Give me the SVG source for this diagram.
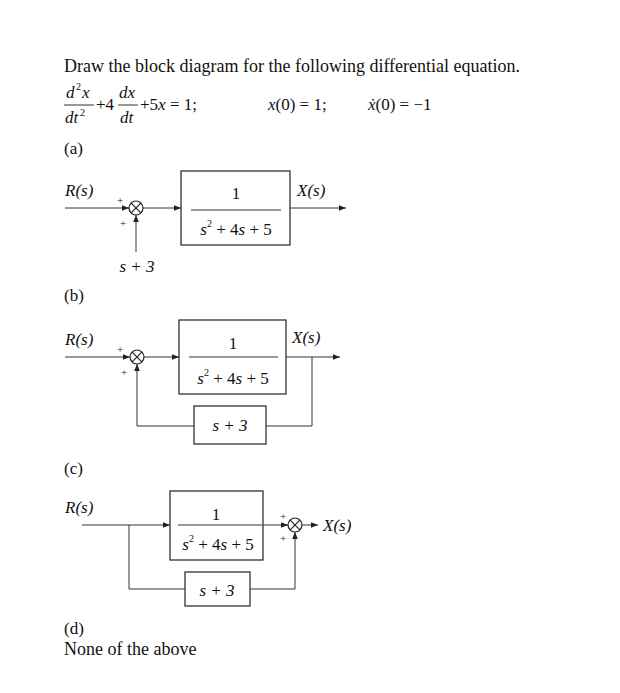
<svg xmlns="http://www.w3.org/2000/svg" width="620" height="693" viewBox="0 0 620 693">
<style>
text{font-family:"Liberation Serif",serif;fill:#111}
.t{font-size:18px}
.i{font-style:italic}
.m{font-size:17px}
.p{font-size:11px}
.b{fill:none;stroke:#333;stroke-width:1.3}
.l{fill:none;stroke:#333;stroke-width:1}
</style>
<defs><marker id="a" viewBox="0 0 10 10" refX="10" refY="5" markerWidth="7" markerHeight="7" orient="auto" markerUnits="userSpaceOnUse"><path d="M0,1L10,5L0,9z" fill="#222"/></marker>
<g id="sum"><circle r="7" fill="#fff" stroke="#222" stroke-width="1.2"/><path d="M-4.9,-4.9L4.9,4.9M-4.9,4.9L4.9,-4.9" stroke="#222" stroke-width="1.2"/></g></defs>
<rect width="620" height="693" fill="#fff"/>
<text class="t" x="64" y="72">Draw the block diagram for the following differential equation.</text>
<g id="equation">
<text class="m i" x="66" y="98">d</text><text x="76" y="90" font-size="10">2</text><text class="m i" x="82" y="98">x</text>
<line x1="64" y1="105" x2="94" y2="105" class="l"/>
<text class="m i" x="65" y="123">dt</text><text x="80" y="116" font-size="10">2</text>
<text class="m" x="96" y="110">+4</text>
<text class="m i" x="119" y="98">dx</text><line x1="118" y1="105" x2="138" y2="105" class="l"/><text class="m i" x="120" y="123">dt</text>
<text class="m" x="140" y="110">+5<tspan font-style="italic">x</tspan> = 1;</text>
<text class="m" x="268" y="110"><tspan font-style="italic">x</tspan>(0) = 1;</text>
<text class="m" x="368" y="110"><tspan font-style="italic">ẋ</tspan>(0) = −1</text>
</g>
<text class="m" x="64" y="154">(a)</text>
<g id="a-diagram">
<text class="m i" x="65" y="196">R(s)</text>
<text class="p" x="117" y="204">+</text><text class="p" x="120" y="227">+</text>
<g id="a-box"><rect x="181" y="171" width="109" height="74" class="b"/>
<text class="m" x="236" y="199" text-anchor="middle">1</text><line x1="191" y1="210" x2="281" y2="210" class="l"/>
<text class="m" x="236" y="235" text-anchor="middle"><tspan font-style="italic">s</tspan><tspan dy="-8" font-size="10">2</tspan><tspan dy="8"> + 4</tspan><tspan font-style="italic">s</tspan> + 5</text></g>
<text class="m i" x="297" y="196">X(s)</text>
<text class="m i" x="137" y="272" text-anchor="middle">s + 3</text>
<g id="a-conn"><line x1="65" y1="208" x2="129" y2="208" class="l" marker-end="url(#a)"/>
<line x1="143" y1="208" x2="181" y2="208" class="l" marker-end="url(#a)"/>
<line x1="290" y1="208" x2="346" y2="208" class="l" marker-end="url(#a)"/>
<line x1="136" y1="252" x2="136" y2="215" class="l" marker-end="url(#a)"/></g>
<use href="#sum" x="136" y="208"/>
</g>
<text class="m" x="64" y="301">(b)</text>
<g id="b-diagram">
<text class="m i" x="65" y="345">R(s)</text>
<text class="p" x="117" y="353">+</text><text class="p" x="121" y="376">+</text>
<g id="b-box"><rect x="179" y="320" width="107" height="74" class="b"/>
<text class="m" x="233" y="349" text-anchor="middle">1</text><line x1="189" y1="357" x2="278" y2="357" class="l"/>
<text class="m" x="233" y="384" text-anchor="middle"><tspan font-style="italic">s</tspan><tspan dy="-8" font-size="10">2</tspan><tspan dy="8"> + 4</tspan><tspan font-style="italic">s</tspan> + 5</text></g>
<text class="m i" x="292" y="343">X(s)</text>
<g id="b-fb"><rect x="194" y="406" width="72" height="38" class="b"/><text class="m i" x="230" y="431" text-anchor="middle">s + 3</text></g>
<g id="b-conn"><line x1="65" y1="357" x2="130" y2="357" class="l" marker-end="url(#a)"/>
<line x1="144" y1="357" x2="179" y2="357" class="l" marker-end="url(#a)"/>
<line x1="286" y1="357" x2="340" y2="357" class="l" marker-end="url(#a)"/>
<polyline points="312,357 312,426 266,426" class="l"/>
<polyline points="194,426 137,426 137,364" class="l" marker-end="url(#a)"/></g>
<use href="#sum" x="137" y="357"/>
</g>
<text class="m" x="64" y="474">(c)</text>
<g id="c-diagram">
<text class="m i" x="65" y="513">R(s)</text>
<text class="p" x="280" y="520">+</text><text class="p" x="280" y="542">+</text>
<g id="c-box"><rect x="170" y="491" width="93" height="69" class="b"/>
<text class="m" x="216" y="520" text-anchor="middle">1</text><line x1="178" y1="525" x2="262" y2="525" class="l"/>
<text class="m" x="218" y="550" text-anchor="middle"><tspan font-style="italic">s</tspan><tspan dy="-8" font-size="10">2</tspan><tspan dy="8"> + 4</tspan><tspan font-style="italic">s</tspan> + 5</text></g>
<g id="c-fb"><rect x="185" y="572" width="65" height="34" class="b"/><text class="m i" x="217" y="596" text-anchor="middle">s + 3</text></g>
<text class="m i" x="323" y="531">X(s)</text>
<g id="c-conn"><line x1="82" y1="525" x2="170" y2="525" class="l" marker-end="url(#a)"/>
<polyline points="129,525 129,589 185,589" class="l"/>
<line x1="263" y1="525" x2="288" y2="525" class="l" marker-end="url(#a)"/>
<polyline points="250,589 295,589 295,532" class="l" marker-end="url(#a)"/>
<line x1="302" y1="525" x2="318" y2="525" class="l" marker-end="url(#a)"/></g>
<use href="#sum" x="295" y="525"/>
</g>
<text class="m" x="64" y="634">(d)</text>
<text class="t" x="64" y="655">None of the above</text>
</svg>
